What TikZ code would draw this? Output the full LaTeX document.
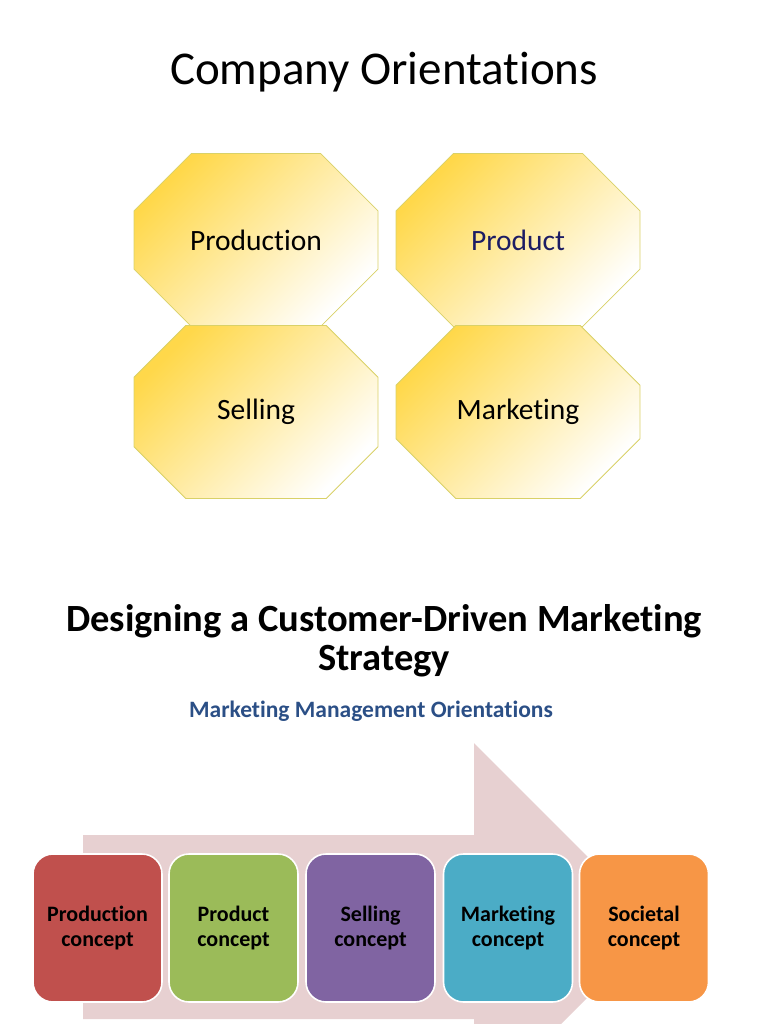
\documentclass[tikz,border=0pt]{standalone}
\usepackage{fontspec}
\setsansfont{Carlito}[Ligatures=NoCommon]
\usepackage{xcolor}
\usetikzlibrary{shapes.misc, positioning}

\definecolor{octline}{HTML}{D9D168}
\definecolor{octgold}{HTML}{FFD84A}
\definecolor{navytext}{HTML}{1C1C64}
\definecolor{headblue}{HTML}{2B4F86}
\definecolor{arrowpink}{HTML}{E7D0D1}
\definecolor{cred}{HTML}{C0504D}
\definecolor{cgreen}{HTML}{9BBB59}
\definecolor{cpurple}{HTML}{8064A2}
\definecolor{cteal}{HTML}{4BACC6}
\definecolor{corange}{HTML}{F79646}

\begin{document}
\begin{tikzpicture}[x=1pt, y=-1pt, font=\sffamily,
    octbox/.style={chamfered rectangle, chamfered rectangle xsep=49pt,
        chamfered rectangle ysep=47pt, minimum width=244pt, minimum height=173pt,
        inner sep=0pt, draw=octline, thick, shading=axis, top color=octgold,
        middle color=octgold!38!white, bottom color=white, shading angle=45,
        font=\sffamily\fontsize{29.5}{34}\selectfont},
    conceptbox/.style={rounded corners=20pt, draw=white, line width=1.6pt,
        minimum width=129pt, minimum height=148pt, align=center,
        font=\sffamily\bfseries\fontsize{22}{25}\selectfont}]
    \useasboundingbox (0,0) rectangle (768,1024);

    % upper half
    \node (title) at (384,72) {\fontsize{47}{52}\selectfont Company Orientations};
    \node[octbox] (production) at (256,240) {Production};
    \node[octbox, text=navytext] (product) at (518,240) {Product};
    \node[octbox] (selling) at (256,412) {Selling};
    \node[octbox] (marketing) at (518,412) {Marketing};

    % lower half
    \node[align=center, font=\sffamily\bfseries\fontsize{38.5}{39}\selectfont] (heading) at (384,641)
        {Designing a Customer-Driven Marketing\\Strategy};
    \node[text=headblue, font=\sffamily\bfseries\fontsize{23.5}{28}\selectfont] (subhead) at (371,711)
        {Marketing Management Orientations};
    \fill[arrowpink] (83,835) -- (474,835) -- (474,743) -- (658,927)
        -- (474,1111) -- (474,1019) -- (83,1019) -- cycle;
    \node[conceptbox, fill=cred] (c1) at (97.5,928) {Production\\concept};
    \node[conceptbox, fill=cgreen] (c2) at (233.5,928) {Product\\concept};
    \node[conceptbox, fill=cpurple] (c3) at (370.5,928) {Selling\\concept};
    \node[conceptbox, fill=cteal] (c4) at (508,928) {Marketing\\concept};
    \node[conceptbox, fill=corange] (c5) at (644,928) {Societal\\concept};
\end{tikzpicture}
\end{document}
